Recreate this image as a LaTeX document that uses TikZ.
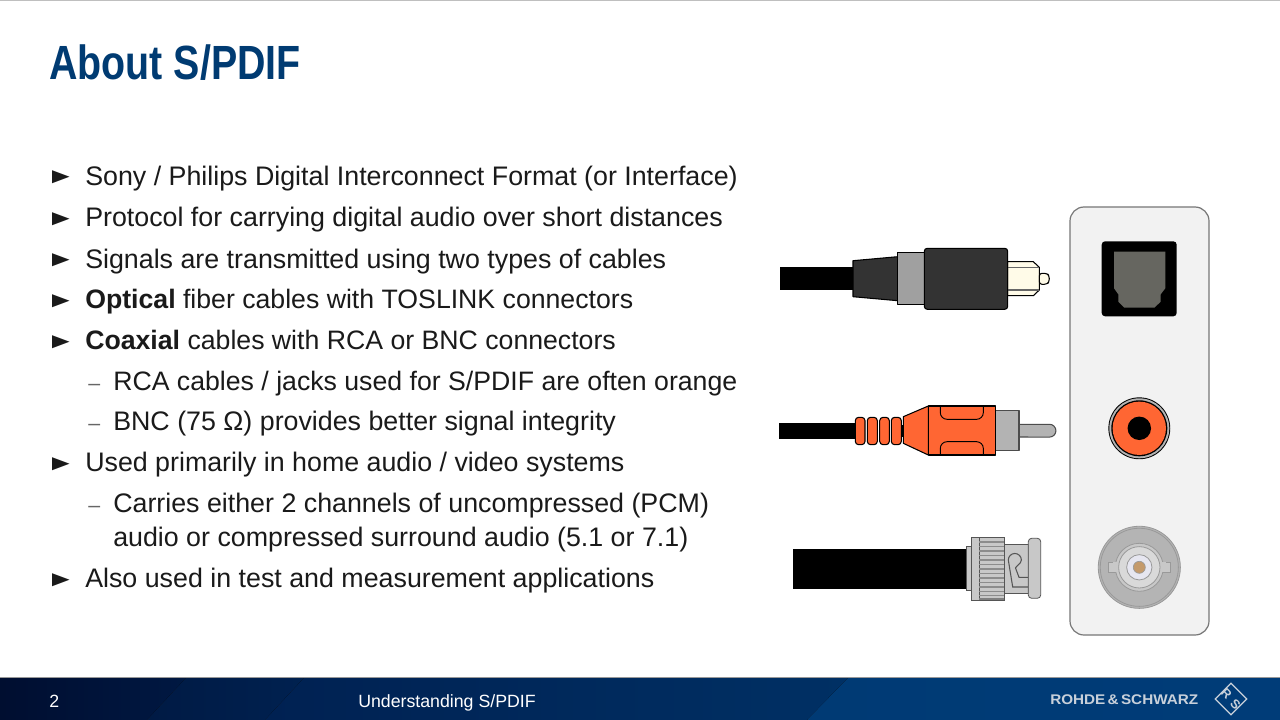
\documentclass[tikz,border=0pt]{standalone}
\usepackage{fontspec}
\setmainfont{Liberation Sans}
\newfontfamily\titlefont[FakeStretch=0.82]{Liberation Sans}
\newfontfamily\brandfont[FakeStretch=1.09]{Liberation Sans}
\usetikzlibrary{shapes.geometric}
\definecolor{ink}{HTML}{1A1A1A}
\definecolor{rsblue}{HTML}{003B72}
\definecolor{dashc}{HTML}{666666}
\definecolor{panelc}{HTML}{F2F2F2}
\definecolor{panelline}{HTML}{777777}
\definecolor{darkc}{HTML}{333333}
\definecolor{ringc}{HTML}{A0A0A0}
\definecolor{creamc}{HTML}{FFFBE8}
\definecolor{orangec}{HTML}{FF6633}
\definecolor{pinc}{HTML}{B3B3B3}
\definecolor{bncgray}{HTML}{C8C8C8}
\definecolor{bncline}{HTML}{555555}
\definecolor{logoc}{HTML}{C8D0DA}
\definecolor{fa}{HTML}{000E30}
\definecolor{fb}{HTML}{001842}
\definecolor{fc}{HTML}{001A44}
\definecolor{fd}{HTML}{002150}
\definecolor{fe}{HTML}{002152}
\definecolor{ff}{HTML}{003064}
\definecolor{fg}{HTML}{003A74}
\definecolor{fh}{HTML}{003C78}
\tikzset{
 bodytext/.style={anchor=base west,inner sep=0pt,text=ink,font=\fontsize{20.1}{24}\selectfont},
 bulletmark/.style={anchor=base west,inner sep=0pt,text=ink,font=\fontsize{22}{24}\selectfont,yscale=0.75,transform shape},
 subdash/.style={anchor=base west,inner sep=0pt,text=dashc,font=\fontsize{16}{18}\selectfont},
 foottext/.style={anchor=base west,inner sep=0pt,text=white,font=\fontsize{13.3}{15}\selectfont},
 plugpart/.style={draw=black,line width=0.8pt,line join=round},
 bncpart/.style={draw=bncline,line width=0.6pt},
 logoletter/.style={rotate=-45,text=logoc,font=\fontsize{9.5}{9.5}\selectfont\bfseries,inner sep=0pt}
}
\begin{document}
\begin{tikzpicture}[x=0.75pt,y=-0.75pt]
\useasboundingbox (0,0) rectangle (1280,720);
\fill[white] (0,0) rectangle (1280,720);
\draw[draw=black!25,line width=0.6pt] (0,0.5) -- (1280,0.5);
% footer
\fill[black!40] (0,676.6) rectangle (1280,678);
\fill[left color=fa,right color=fb] (0,678) -- (186,678) -- (147,720) -- (0,720) -- cycle;
\fill[left color=fc,right color=fd] (186,678) -- (304,678) -- (265,720) -- (147,720) -- cycle;
\fill[left color=fe,right color=ff] (304,678) -- (848,678) -- (807,720) -- (265,720) -- cycle;
\fill[left color=fg,right color=fh] (848,678) -- (1280,678) -- (1280,720) -- (807,720) -- cycle;
\node[foottext] (pagenum) at (49,707) {2};
\node[foottext] (foottitle) at (358,707) {Understanding S/PDIF};
\node[anchor=base west,inner sep=0pt,text=logoc,font=\fontsize{10.5}{12}\brandfont\bfseries] (brand) at (1050,704) {ROHDE\,\&\,SCHWARZ};
\node[diamond,draw=logoc,line width=0.9pt,inner sep=0pt,minimum size=24pt] (logo) at (1231,699) {};
\node[logoletter] (logor) at (1226.5,693.5) {R};
\node[logoletter] (logos) at (1235.5,704.5) {S};
% title
\node[anchor=base west,inner sep=0pt,text=rsblue,font=\fontsize{36}{40}\titlefont\bfseries] (title) at (49,80) {About S/PDIF};
% bullets
\node[bulletmark] (m1) at (46,184) {►};
\node[bodytext] (t1) at (85,186) {Sony / Philips Digital Interconnect Format (or Interface)};
\node[bulletmark] (m2) at (46,225) {►};
\node[bodytext] (t2) at (85,227) {Protocol for carrying digital audio over short distances};
\node[bulletmark] (m3) at (46,266) {►};
\node[bodytext] (t3) at (85,268) {Signals are transmitted using two types of cables};
\node[bulletmark] (m4) at (46,307) {►};
\node[bodytext,font=\fontsize{20}{24}\selectfont] (t4) at (85,308) {\textbf{Optical} fiber cables with TOSLINK connectors};
\node[bulletmark] (m5) at (46,348) {►};
\node[bodytext,font=\fontsize{20}{24}\selectfont] (t5) at (85,349) {\textbf{Coaxial} cables with RCA or BNC connectors};
\node[subdash] (d1) at (88,390) {–};
\node[bodytext,font=\fontsize{20}{24}\selectfont] (t6) at (113,390) {RCA cables / jacks used for S/PDIF are often orange};
\node[subdash] (d2) at (88,430) {–};
\node[bodytext] (t7) at (113,430) {BNC (75 Ω) provides better signal integrity};
\node[bulletmark] (m6) at (46,470) {►};
\node[bodytext] (t8) at (85,471) {Used primarily in home audio / video systems};
\node[subdash] (d3) at (88,512) {–};
\node[bodytext] (t9) at (113,512) {Carries either 2 channels of uncompressed (PCM)};
\node[bodytext] (t10) at (113,546) {audio or compressed surround audio (5.1 or 7.1)};
\node[bulletmark] (m7) at (46,586) {►};
\node[bodytext] (t11) at (85,587) {Also used in test and measurement applications};
% panel
\draw[fill=panelc,draw=panelline,line width=0.9pt,rounded corners=10.5pt] (1070,207) rectangle (1209,635);
% toslink port
\fill[black,rounded corners=2.5pt] (1101.7,241.3) rectangle (1176.7,316.3);
\fill[fill={rgb,255:red,102;green,102;blue,96}] (1114,251.7) -- (1165.3,251.7) -- (1165.3,288.3) -- (1160.7,294.3) -- (1160.7,301.7) -- (1154.3,307.7) -- (1124.3,307.7) -- (1118.3,301.7) -- (1118.3,294.3) -- (1114,288.3) -- cycle;
% rca jack
\fill[black] (1139.3,428.3) circle[radius=23.2pt];
\fill[pinc] (1139.3,428.3) circle[radius=22.5pt];
\fill[black] (1139.3,428.3) circle[radius=21pt];
\fill[orangec] (1139.3,428.3) circle[radius=20pt];
\fill[black] (1139.3,428.3) circle[radius=8.8pt];
% bnc jack
\draw[fill=bncgray!90!black,draw=black!40,line width=0.6pt] (1139.3,567.3) circle[radius=30.8pt];
\draw[draw=black!40,line width=0.6pt] (1139.3,567.3) circle[radius=29.3pt];
\draw[fill=bncgray,draw=black!40,line width=0.6pt] (1108.6,562) rectangle (1116,572.6);
\draw[fill=bncgray,draw=black!40,line width=0.6pt] (1162.6,562) rectangle (1170,572.6);
\draw[fill=bncgray,draw=black!40,line width=0.6pt] (1139.3,567.3) circle[radius=18pt];
\fill[bncgray] (1113,562.3) rectangle (1118,572.3);
\fill[bncgray] (1161,562.3) rectangle (1166,572.3);
\draw[fill=black!15,draw=black!40,line width=0.6pt] (1139.3,567.3) circle[radius=15.5pt];
\draw[fill={rgb,255:red,230;green,230;blue,240},draw=black!40,line width=0.6pt] (1139.3,567.3) circle[radius=9.5pt];
\draw[fill={rgb,255:red,196;green,154;blue,108},draw=black!40,line width=0.5pt] (1139.3,567.3) circle[radius=4.5pt];
% toslink plug
\fill[black] (780,267.3) rectangle (856,290.3);
\draw[plugpart,fill=darkc] (853,260.7) -- (897.7,256.7) -- (897.7,300.7) -- (853,296.7) -- cycle;
\draw[plugpart,fill=ringc] (897.7,252.7) rectangle (924.3,304.7);
\draw[plugpart,fill=creamc] (1007.7,261.7) -- (1033.3,261.7) -- (1039.3,267.3) -- (1039.3,290) -- (1033.3,295.7) -- (1007.7,295.7) -- cycle;
\draw[draw=black!60,line width=1.4pt] (1007.7,267.5) -- (1039.3,267.5) (1007.7,290) -- (1039.3,290);
\draw[plugpart,fill=creamc,rounded corners=2pt] (1039.3,273.3) -- (1047,273.3) -- (1049.3,276) -- (1049.3,281.5) -- (1047,284.3) -- (1039.3,284.3) -- cycle;
\draw[plugpart,fill=darkc,rounded corners=2.2pt] (924.3,248.3) rectangle (1007.7,309.3);
% rca plug
\fill[black] (779,423.3) rectangle (858,438.7);
\foreach \a/\b in {855.3/865,867.3/877.3,879.7/889.3,891.3/901.3}
  \draw[plugpart,fill=orangec,rounded corners=2.5pt] (\a,417.3) rectangle (\b,444.7);
\fill[black] (901.3,425) rectangle (904,437);
\draw[plugpart,fill=orangec] (903.3,416.7) -- (928.3,406) -- (928.3,455) -- (903.3,443.3) -- cycle;
\draw[plugpart,fill=pinc,draw=black!70] (1019,424.3) -- (1049.5,424.3) arc[start angle=90,end angle=-90,radius=4.8pt] -- (1019,437) -- cycle;
\draw[plugpart,fill=pinc,draw=black!70] (995.7,410.7) rectangle (1019,450.7);
\draw[plugpart,fill=orangec] (928.3,406) rectangle (995.7,455);
\draw[draw=black,line width=0.7pt,rounded corners=5pt] (940.3,406) -- (940.3,419.3) -- (983.3,419.3) -- (983.3,406);
\draw[draw=black,line width=0.7pt,rounded corners=5pt] (940.3,455) -- (940.3,441.7) -- (983.3,441.7) -- (983.3,455);
% bnc plug
\fill[black] (793,549) rectangle (968,589);
\draw[bncpart,fill=bncgray] (966,546) rectangle (971.7,590.7);
\draw[bncpart,fill=bncgray] (1004,544) rectangle (1028.3,593.3);
\draw[bncpart,fill=bncgray] (971.7,537.3) rectangle (1004,600.3);
\draw[bncpart] (979.3,537.3) -- (979.3,600.3);
\foreach \y in {542,546.5,551,555.5,560,564.5,569,573.5,578,582.5,587,591.5,595.5}
  \draw[draw=black!45,line width=0.9pt] (979.3,\y) -- (1004,\y);
\fill[black!50] (979.3,597.5) rectangle (1004,600.3);
\draw[draw=bncline,line width=0.8pt] (1028.3,587) -- (1012.7,587) -- (1008.3,560) arc[start angle=180,end angle=0,radius=4.9pt] .. controls (1021,564) and (1016,566) .. (1015.5,568) -- (1019,577.3) -- (1028.3,577.3);
\draw[bncpart,fill=bncgray,rounded corners=2.5pt] (1028.3,538.3) rectangle (1040.7,598.3);
\end{tikzpicture}
\end{document}
